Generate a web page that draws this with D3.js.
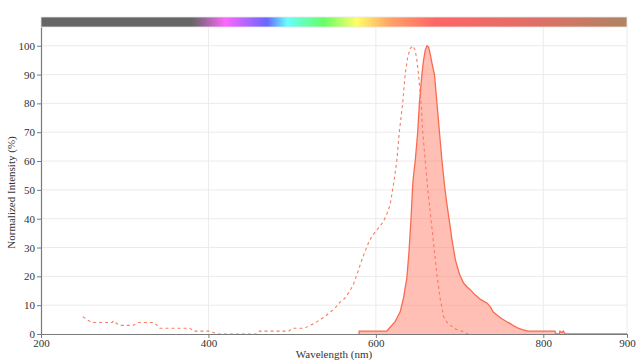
<!DOCTYPE html>
<html>
<head>
<meta charset="utf-8">
<script src="https://cdn.jsdelivr.net/npm/d3@7"></script>
<style>
  body { margin: 0; background: #fff; }
  svg text { font-family: "Liberation Serif", "Times New Roman", serif !important; }
</style>
</head>
<body>
<div id="chart"></div>
<script>
// Excitation spectrum (dashed), [wavelength nm, intensity %]
const excitation = [
  [250, 6], [255, 5], [260, 4], [285, 4], [287, 4.6], [290, 3.7], [295, 3], [310, 3], [315, 4], [335, 4],
  [342, 2], [378, 2], [382, 1], [402, 1], [410, 0], [458, 0], [461, 1], [496, 1], [500, 2], [515, 2],
  [521, 3], [527, 3.7], [533, 5], [539, 6], [545, 7.5], [551, 8.9], [557, 11], [563, 12.4], [568, 14.5],
  [573, 17], [579, 22], [583, 25.5], [587, 28.6], [591, 31.5], [595, 33.8], [601, 36], [605, 37.5],
  [609, 39], [613, 41.5], [617, 44.8], [621, 51.7], [625, 60], [628, 70], [632, 80], [635, 90], [638, 96],
  [641, 99], [644, 100], [647, 98.5], [649, 95], [651, 90], [654, 80], [656, 70], [659, 60], [662, 50],
  [664, 44.8], [667, 36.7], [670, 28.6], [673, 20.5], [677, 12], [681, 6], [685, 4], [689, 3], [696, 1.6],
  [703, 1], [710, 0]
];

// Emission spectrum (solid, filled)
const emission = [
  [580, 0], [580, 1], [613, 1], [616, 2], [619, 3], [623, 4.3], [626, 6], [629, 7.7], [631, 10], [633, 12.4],
  [635, 16], [637, 19.3], [639.6, 28.6], [642, 40], [644, 51.7], [645, 55], [647, 60], [650, 70], [652, 80],
  [655, 90], [657, 95], [659, 98.5], [661, 100], [663, 99.5], [665, 97], [667, 94], [670, 90], [673, 80],
  [676, 70], [679, 60], [682.6, 50], [685, 44.8], [689, 36.7], [691, 32.6], [695, 25.7], [699, 21.6],
  [701, 20], [705, 17.6], [709, 16.3], [713, 15.3], [717, 14], [721, 13], [725, 12], [729, 11.3],
  [733, 10.7], [737, 9.3], [740, 7.7], [745, 6.5], [750, 5.4], [755, 4.5], [760, 3.7], [765, 2.8],
  [770, 2], [775, 1.5], [782, 1], [814, 1], [815, 0], [819, 0], [820, 1], [822, 0.5], [824, 1], [826, 0],
  [900, 0]
];

const xTicks = [200, 400, 600, 800, 900];
const yTicks = [0, 10, 20, 30, 40, 50, 60, 70, 80, 90, 100];

// Spectrum colour bar stops [wavelength, colour]
const spectrumStops = [
  [200, "#666666"], [380, "#666666"], [395, "#996699"], [420, "#ff66ff"], [445, "#b366ff"],
  [470, "#6666ff"], [494, "#66ffff"], [515, "#66ffb3"], [538, "#66ff66"], [577, "#ffff66"],
  [617, "#ffa366"], [670, "#ff6666"], [800, "#dd7066"], [900, "#b08462"]
];

const width = 640, height = 364;
const margin = { top: 27, right: 13, bottom: 30, left: 41 };

const svg = d3.select("#chart").append("svg").attr("width", width).attr("height", height);

const x = d3.scaleLinear().domain([200, 900]).range([margin.left, width - margin.right]);
const y = d3.scaleLinear().domain([0, 106.5]).range([height - margin.bottom, margin.top]);

// Gridlines
svg.append("g")
  .selectAll("line")
  .data(yTicks.filter(d => d > 0))
  .enter().append("line")
  .attr("x1", x(200)).attr("x2", x(900))
  .attr("y1", d => y(d)).attr("y2", d => y(d))
  .attr("stroke", "#ebebeb");
svg.append("g")
  .selectAll("line")
  .data(xTicks.filter(d => d > 200))
  .enter().append("line")
  .attr("x1", d => x(d)).attr("x2", d => x(d))
  .attr("y1", y(0)).attr("y2", margin.top)
  .attr("stroke", "#ebebeb");

// Colour bar on top
const defs = svg.append("defs");
const grad = defs.append("linearGradient").attr("id", "spec")
  .attr("gradientUnits", "userSpaceOnUse")
  .attr("x1", x(200)).attr("x2", x(900)).attr("y1", 0).attr("y2", 0);
grad.selectAll("stop").data(spectrumStops).enter().append("stop")
  .attr("offset", d => (d[0] - 200) / 700)
  .attr("stop-color", d => d[1]);
svg.append("rect")
  .attr("x", x(200)).attr("y", 17)
  .attr("width", x(900) - x(200)).attr("height", 10)
  .attr("fill", "url(#spec)")
  .attr("stroke", "#e6e6e6").attr("stroke-width", 0.8);

// Emission area + line
const area = d3.area().x(d => x(d[0])).y0(y(0)).y1(d => y(d[1]));
const line = d3.line().x(d => x(d[0])).y(d => y(d[1]));

svg.append("path").datum(emission)
  .attr("d", area)
  .attr("fill", "#ff7a62").attr("fill-opacity", 0.48);
svg.append("path").datum(emission)
  .attr("d", line)
  .attr("fill", "none").attr("stroke", "#fa6a50").attr("stroke-width", 1.3);

// Excitation dashed line
svg.append("path").datum(excitation)
  .attr("d", line)
  .attr("fill", "none").attr("stroke", "#fb7a60").attr("stroke-width", 1.1)
  .attr("stroke-dasharray", "3,3");

// Axes
const xAxis = svg.append("g")
  .attr("transform", `translate(0,${y(0)})`)
  .call(d3.axisBottom(x).tickValues(xTicks).tickSize(4).tickPadding(1).tickSizeOuter(0));
const yAxis = svg.append("g")
  .attr("transform", `translate(${margin.left},0)`)
  .call(d3.axisLeft(y).tickValues(yTicks).tickSize(4).tickPadding(2).tickSizeOuter(0));

[xAxis, yAxis].forEach(g => {
  g.select(".domain").attr("stroke", "#7a7a7a").attr("stroke-width", 1.2);
  g.selectAll(".tick line").attr("stroke", "#7a7a7a");
  g.selectAll("text").attr("font-size", 11).attr("fill", "#333");
});

// Axis titles
svg.append("text")
  .attr("x", (x(200) + x(900)) / 2).attr("y", 358)
  .attr("text-anchor", "middle").attr("font-size", 11).attr("fill", "#333")
  .text("Wavelength (nm)");
svg.append("text")
  .attr("transform", `translate(15,${(y(0) + margin.top) / 2 + 12}) rotate(-90)`)
  .attr("text-anchor", "middle").attr("font-size", 11).attr("fill", "#333")
  .text("Normalized Intensity (%)");
</script>
</body>
</html>
